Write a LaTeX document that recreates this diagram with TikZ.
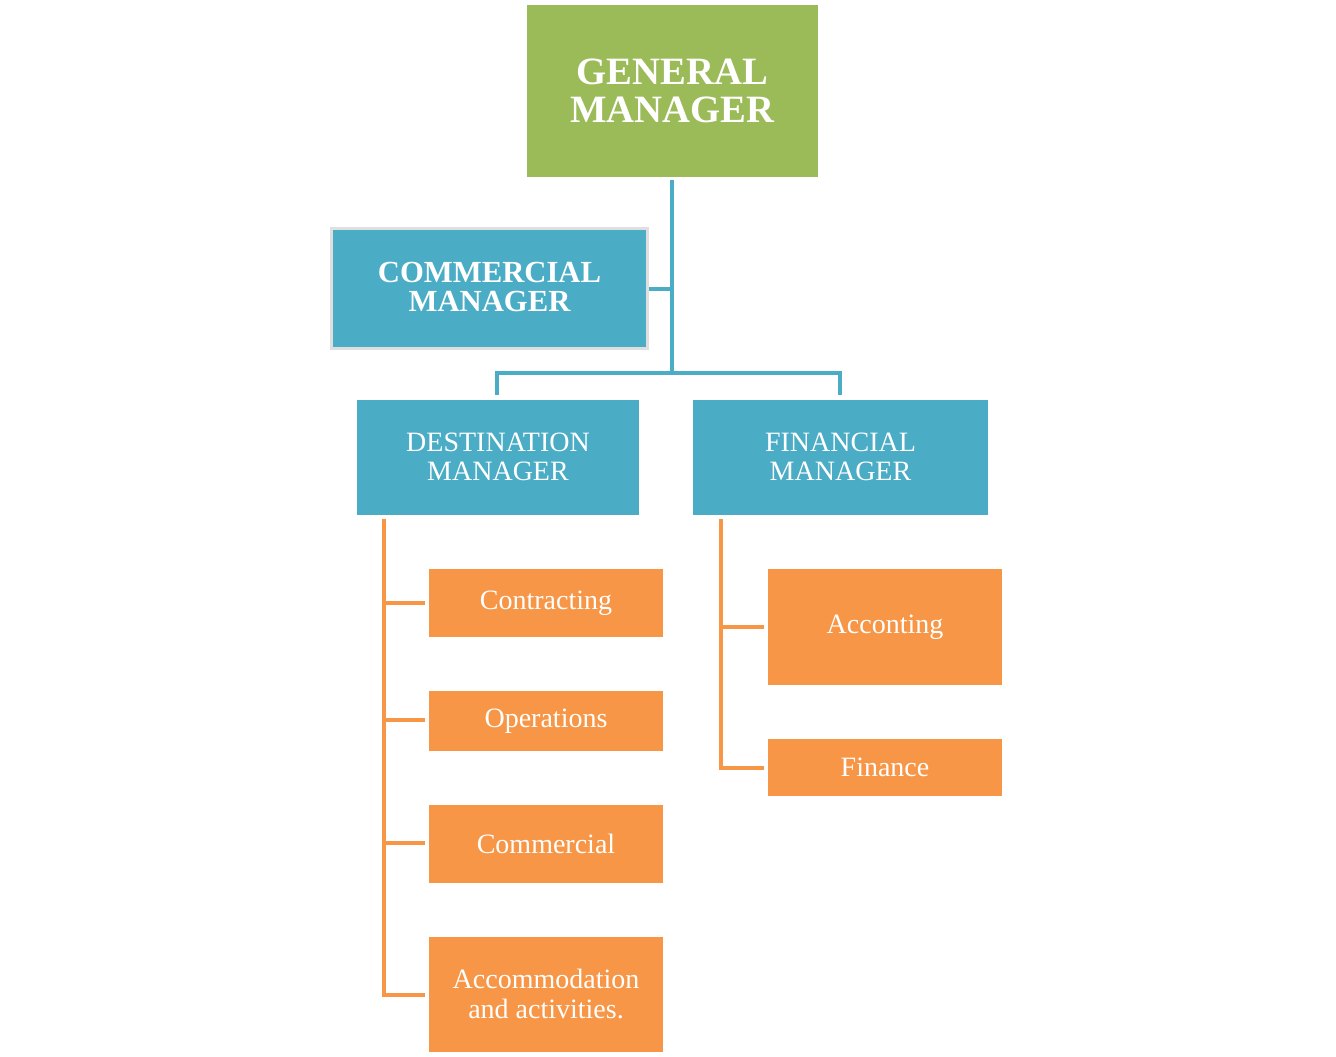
\documentclass[tikz,border=0pt]{standalone}
\usepackage{fontspec}
\setmainfont{Liberation Serif}
\definecolor{gm}{HTML}{9BBB59}
\definecolor{bl}{HTML}{4BACC6}
\definecolor{or}{HTML}{F79646}
\begin{document}
\begin{tikzpicture}[x=0.75pt,y=-0.75pt,
  bx/.style={inner sep=0,text=white,align=center,font=\fontsize{21}{22}\selectfont},
  bline/.style={draw=bl,line width=3pt},
  oline/.style={draw=or,line width=3pt}]
\useasboundingbox (0,0) rectangle (1336,1057);
\fill[gm] (527,5) rectangle (818,177);
\node[bx,font=\fontsize{29}{28}\selectfont\bfseries] (gm) at (672.5,91) {GENERAL\\MANAGER};
\fill[gray!25] (330,227) rectangle (649,350);
\fill[bl] (333,230) rectangle (646,347);
\node[bx,font=\fontsize{23}{22}\selectfont\bfseries] (cm) at (489.5,287) {COMMERCIAL\\MANAGER};
\fill[bl] (357,400) rectangle (639,515);
\node[bx] (dm) at (498,457) {DESTINATION\\MANAGER};
\fill[bl] (693,400) rectangle (988,515);
\node[bx] (fm) at (840.5,457) {FINANCIAL\\MANAGER};
\fill[or] (429,569) rectangle (663,637); \node[bx] (c1) at (546,603) {Contracting};
\fill[or] (429,691) rectangle (663,751); \node[bx] (c2) at (546,721) {Operations};
\fill[or] (429,805) rectangle (663,883); \node[bx] (c3) at (546,844) {Commercial};
\fill[or] (429,937) rectangle (663,1052); \node[bx] (c4) at (546,994) {Accommodation\\and activities.};
\fill[or] (768,569) rectangle (1002,685); \node[bx] (f1) at (885,627) {Acconting};
\fill[or] (768,739) rectangle (1002,796); \node[bx] (f2) at (885,767) {Finance};
\draw[bline] (672,180) -- (672,373);
\draw[bline] (649,289) -- (672,289);
\draw[bline] (497,395) -- (497,373) -- (840,373) -- (840,395);
\draw[oline] (384,519) -- (384,995) -- (425,995);
\foreach \y in {603,720,843} \draw[oline] (384,\y) -- (425,\y);
\draw[oline] (721,519) -- (721,768) -- (764,768);
\draw[oline] (721,627) -- (764,627);
\end{tikzpicture}
\end{document}
